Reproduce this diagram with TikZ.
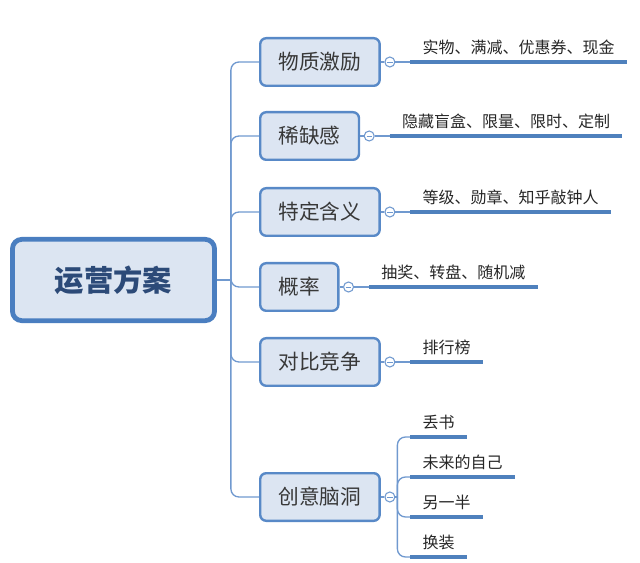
\documentclass[tikz,border=0pt]{standalone}
\usepackage{fontspec}
\usepackage{tikz}
\usetikzlibrary{positioning}
\newfontfamily\cjk{Noto Sans CJK SC}
\definecolor{mapline}{RGB}{112,153,207}
\definecolor{mapbar}{RGB}{79,129,189}
\definecolor{mapfill}{RGB}{220,229,242}
\definecolor{mapedge}{RGB}{88,137,199}
\definecolor{rootedge}{RGB}{74,126,192}
\definecolor{roottext}{RGB}{44,74,120}

\begin{document}
\begin{tikzpicture}[
    x=0.75pt, y=-0.75pt,
    root/.style  = {draw=rootedge, line width=3.6pt, rounded corners=7pt,
                    fill=mapfill, minimum width=151.5pt, minimum height=61pt,
                    font=\cjk\bfseries\fontsize{22}{26}\selectfont, text=roottext},
    topic/.style = {draw=mapedge, line width=1.8pt, rounded corners=4.5pt,
                    fill=mapfill, minimum height=35.7pt, inner xsep=13.8pt,
                    font=\cjk\fontsize{15.5}{18}\selectfont, text=black!78, anchor=west},
    fold/.style  = {circle, draw=mapline, fill=white, line width=0.8pt,
                    minimum size=7.5pt, inner sep=0pt,
                    path picture={\draw[mapline, line width=0.6pt]
                      ([xshift=-2pt]path picture bounding box.center) --
                      ([xshift=2pt]path picture bounding box.center);}},
    leaf/.style  = {font=\cjk\fontsize{12}{14}\selectfont, text=black!85,
                    inner xsep=9pt, inner ysep=5pt, anchor=south west},
    link/.style  = {draw=mapline, line width=1pt, rounded corners=6pt},
    bar/.style   = {draw=mapbar, line width=2.4pt},
  ]
  \useasboundingbox (0,0) rectangle (640,563);

  \node[root] (root) at (113.5,280) {运营方案};

  \node[topic] (n1) at (259,62)  {物质激励};
  \node[topic] (n2) at (259,136) {稀缺感};
  \node[topic] (n3) at (259,212) {特定含义};
  \node[topic] (n4) at (259,287) {概率};
  \node[topic] (n5) at (259,362) {对比竞争};
  \node[topic] (n6) at (259,497) {创意脑洞};

  \node[fold, right=2.6pt of n1] (f1) {};
  \node[fold, right=2.6pt of n2] (f2) {};
  \node[fold, right=2.6pt of n3] (f3) {};
  \node[fold, right=2.6pt of n4] (f4) {};
  \node[fold, right=2.6pt of n5] (f5) {};
  \node[fold, right=2.6pt of n6] (f6) {};

  \node[leaf] (l1) at ([xshift=11.25pt]f1.east) {实物、满减、优惠券、现金};
  \node[leaf] (l2) at ([xshift=11.25pt]f2.east) {隐藏盲盒、限量、限时、定制};
  \node[leaf] (l3) at ([xshift=11.25pt]f3.east) {等级、勋章、知乎敲钟人};
  \node[leaf] (l4) at ([xshift=11.25pt]f4.east) {抽奖、转盘、随机减};
  \node[leaf] (l5) at ([xshift=11.25pt]f5.east) {排行榜};
  \node[leaf] (l6a) at ([xshift=11.25pt, yshift=45pt]f6.east)  {丢书};
  \node[leaf] (l6b) at ([xshift=11.25pt, yshift=15pt]f6.east)  {未来的自己};
  \node[leaf] (l6c) at ([xshift=11.25pt, yshift=-15pt]f6.east) {另一半};
  \node[leaf] (l6d) at ([xshift=11.25pt, yshift=-45pt]f6.east) {换装};

  \coordinate (trunk) at ([xshift=10.5pt]root.east);
  \coordinate (fork) at ([xshift=1.5pt]f6.east);

  \draw[link] (root.east) -- (trunk);
  \draw[link] (trunk) |- (n1.west);
  \draw[link] (trunk) |- (n2.west);
  \draw[link] (trunk) |- (n3.west);
  \draw[link] (trunk) |- (n4.west);
  \draw[link] (trunk) |- (n5.west);
  \draw[link] (trunk) |- (n6.west);

  \draw[link] (n1.east) -- (f1.west);
  \draw[link] (n2.east) -- (f2.west);
  \draw[link] (n3.east) -- (f3.west);
  \draw[link] (n4.east) -- (f4.west);
  \draw[link] (n5.east) -- (f5.west);
  \draw[link] (n6.east) -- (f6.west);

  \draw[link] (f1.east) -- (l1.south west);
  \draw[link] (f2.east) -- (l2.south west);
  \draw[link] (f3.east) -- (l3.south west);
  \draw[link] (f4.east) -- (l4.south west);
  \draw[link] (f5.east) -- (l5.south west);
  \draw[link] (f6.east) -- (fork);
  \draw[link] (fork) |- (l6a.south west);
  \draw[link] (fork) |- (l6b.south west);
  \draw[link] (fork) |- (l6c.south west);
  \draw[link] (fork) |- (l6d.south west);

  \draw[bar] (l1.south west) -- (l1.south east);
  \draw[bar] (l2.south west) -- (l2.south east);
  \draw[bar] (l3.south west) -- (l3.south east);
  \draw[bar] (l4.south west) -- (l4.south east);
  \draw[bar] (l5.south west) -- (l5.south east);
  \draw[bar] (l6a.south west) -- (l6a.south east);
  \draw[bar] (l6b.south west) -- (l6b.south east);
  \draw[bar] (l6c.south west) -- (l6c.south east);
  \draw[bar] (l6d.south west) -- (l6d.south east);
\end{tikzpicture}
\end{document}
